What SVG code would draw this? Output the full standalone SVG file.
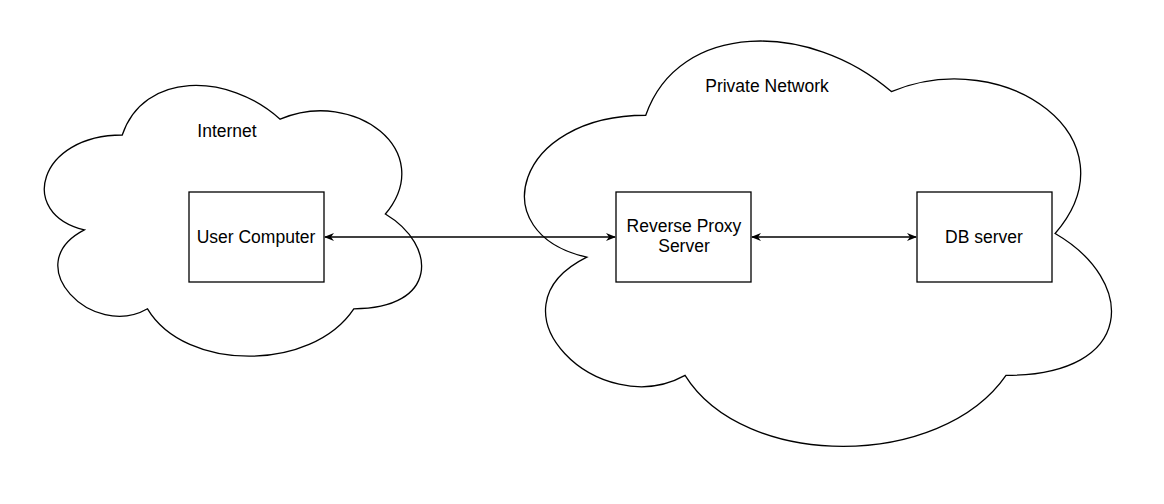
<svg xmlns="http://www.w3.org/2000/svg" width="1164" height="504" viewBox="0 0 1164 504">
<defs>
<marker id="a" viewBox="0 0 10 10" refX="9" refY="5" markerWidth="10" markerHeight="10" markerUnits="userSpaceOnUse" orient="auto-start-reverse">
<path d="M0,1 L10,5 L0,9 L3,5 Z" fill="#000"/>
</marker>
<style>
.c{fill:#fff;stroke:#000;stroke-width:1.3}
.b{fill:#fff;stroke:#000;stroke-width:1.3}
text{font-family:"Liberation Sans",Arial,sans-serif;font-size:17.5px;fill:#000;text-anchor:middle}
.e{stroke:#000;stroke-width:1.3;fill:none;marker-start:url(#a);marker-end:url(#a)}
</style>
</defs>
<rect width="1164" height="504" fill="#fff"/>
<g id="internet">
<path class="c" transform="translate(17,56) scale(421,316)" vector-effect="non-scaling-stroke" d="M0.25,0.25 C0.05,0.25 0,0.5 0.16,0.55 C0,0.66 0.18,0.9 0.31,0.8 C0.4,1 0.7,1 0.8,0.8 C1,0.8 1,0.6 0.875,0.5 C1,0.3 0.8,0.1 0.625,0.2 C0.5,0.05 0.3,0.05 0.25,0.25 Z"/>
<text x="227" y="137">Internet</text>
</g>
<g id="private">
<path class="c" transform="translate(482,-3) scale(655,473)" vector-effect="non-scaling-stroke" d="M0.25,0.25 C0.05,0.25 0,0.5 0.16,0.55 C0,0.66 0.18,0.9 0.31,0.8 C0.4,1 0.7,1 0.8,0.8 C1,0.8 1,0.6 0.875,0.5 C1,0.3 0.8,0.1 0.625,0.2 C0.5,0.05 0.3,0.05 0.25,0.25 Z"/>
<text x="767" y="92">Private Network</text>
</g>
<g id="user">
<rect class="b" x="189" y="192" width="135" height="90"/>
<text x="256" y="243">User Computer</text>
</g>
<g id="proxy">
<rect class="b" x="616" y="192" width="135" height="90"/>
<text x="684" y="232">Reverse Proxy</text>
<text x="684" y="252">Server</text>
</g>
<g id="db">
<rect class="b" x="917" y="192" width="135" height="90"/>
<text x="984" y="243">DB server</text>
</g>
<g id="connectors">
<line class="e" x1="325" y1="237" x2="615" y2="237"/>
<line class="e" x1="752" y1="237" x2="916" y2="237"/>
</g>
</svg>
